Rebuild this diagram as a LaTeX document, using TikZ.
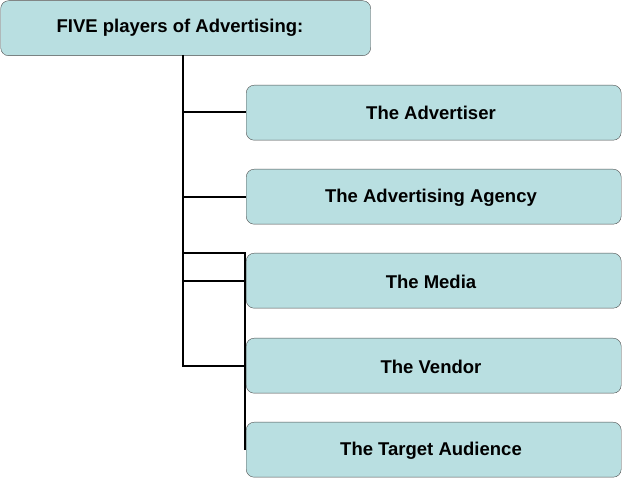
\documentclass[tikz,border=0pt]{standalone}
\usepackage{fontspec}
\setmainfont{Liberation Sans}
\begin{document}
\begin{tikzpicture}[x=1pt,y=-1pt,
 box/.style={draw=black!70,fill=boxc,rounded corners=8pt,minimum height=55pt,anchor=north west},
 lbl/.style={font=\bfseries\fontsize{18.5}{22}\selectfont},
 conn/.style={line width=1.6pt}]
\definecolor{boxc}{HTML}{B9DFE1}
\useasboundingbox (0,0) rectangle (638,478);
\node[box,minimum width=370pt] (top) at (0.5,0.5) {};
\node[lbl] (tt) at (180,28) {FIVE players of Advertising:};
\node[box,minimum width=375pt] (a) at (246,85) {};
\node[lbl] (ta) at (431,113) {The Advertiser};
\node[box,minimum width=375pt] (b) at (246,169) {};
\node[lbl] (tb) at (431,198) {The Advertising Agency};
\node[box,minimum width=375pt] (c) at (246,253) {};
\node[lbl] (tc) at (431,282) {The Media};
\node[box,minimum width=375pt] (d) at (246,338) {};
\node[lbl] (td) at (431,367) {The Vendor};
\node[box,minimum width=375pt] (e) at (246,422) {};
\node[lbl] (te) at (431,451) {The Target Audience};
\coordinate (j) at (183,366);
\draw[conn] (183,55) -- (j) -- (245,366);
\draw[conn] (183,112) -- (246,112);
\draw[conn] (183,197) -- (246,197);
\draw[conn] (183,281) -- (245,281);
\draw[conn] (183,253) -- (245,253) -- (245,450);
\end{tikzpicture}
\end{document}
